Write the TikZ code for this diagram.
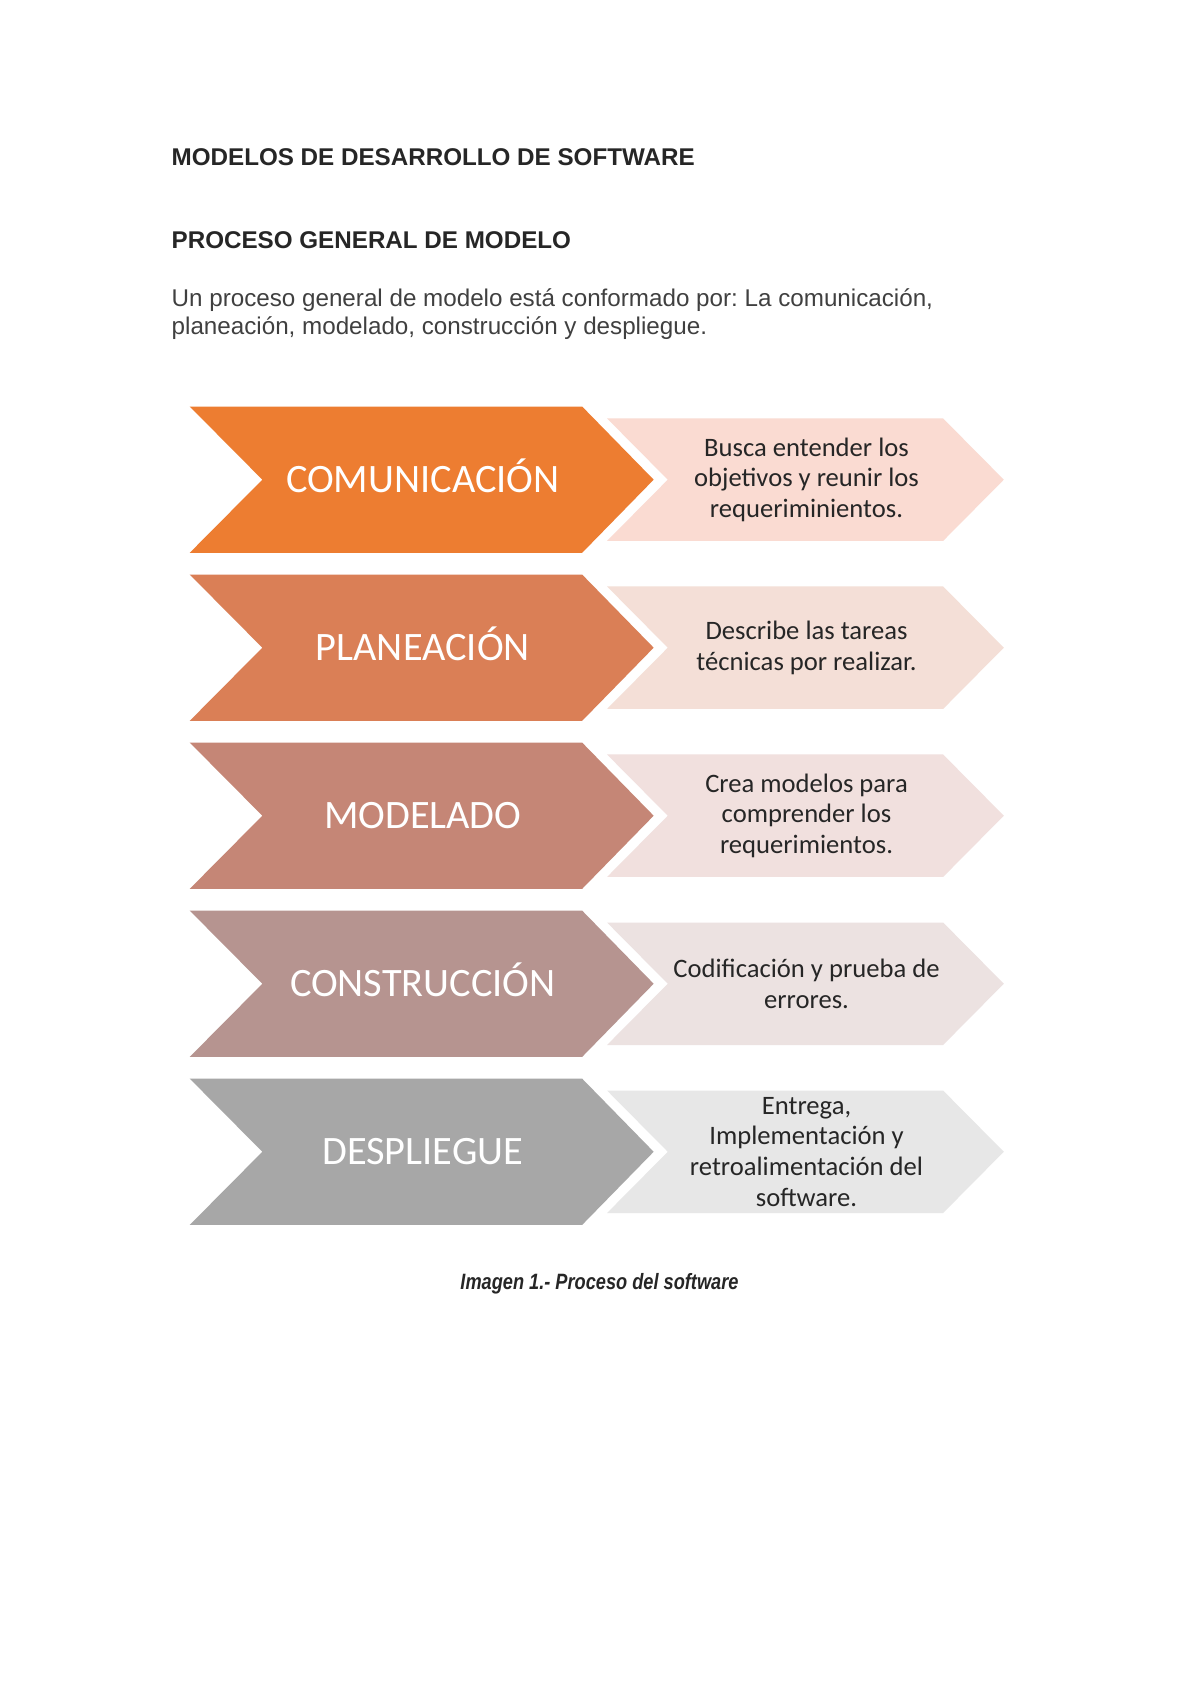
\documentclass[tikz,border=0pt]{standalone}
\usepackage{fontspec}
\setmainfont{Liberation Sans}
\newfontfamily\calibrifont{Carlito}
\frenchspacing
\definecolor{headc}{HTML}{262626}
\definecolor{bodyc}{HTML}{404040}
\definecolor{boxtxt}{HTML}{262626}
\definecolor{lA}{HTML}{ED7D31}\definecolor{rA}{HTML}{FADBD2}
\definecolor{lB}{HTML}{DA7F56}\definecolor{rB}{HTML}{F4DFD7}
\definecolor{lC}{HTML}{C58676}\definecolor{rC}{HTML}{F1E0DE}
\definecolor{lD}{HTML}{B69490}\definecolor{rD}{HTML}{ECE2E1}
\definecolor{lE}{HTML}{A7A7A7}\definecolor{rE}{HTML}{E7E7E7}
\tikzset{
  headtext/.style={anchor=base west, inner sep=0pt, text=headc, font=\fontsize{12}{14}\selectfont\bfseries},
  bodytext/.style={anchor=base west, inner sep=0pt, text=bodyc, font=\fontsize{12}{14}\selectfont\frenchspacing},
  steptext/.style={anchor=base, inner sep=0pt, text=white, font=\calibrifont\fontsize{20}{24}\selectfont},
  desctext/.style={anchor=center, inner sep=0pt, align=center, text=boxtxt, font=\calibrifont\fontsize{13.2}{15.2}\selectfont},
  captext/.style={anchor=base, inner sep=0pt, text=headc, font=\fontsize{11}{13}\selectfont\bfseries\itshape}
}
\newcommand{\mychevrow}[6]{%
  % #1 top, #2 left colour, #3 right colour, #4 name, #5 label, #6 description
  \fill[#2] (175,#1) -- (537,#1) -- (603,#1+67.5) -- (537,#1+135) -- (175,#1+135) -- (242,#1+67.5) -- cycle;
  \fill[#3] (560,#1+11) -- (870,#1+11) -- (926,#1+67.5) -- (870,#1+124) -- (560,#1+124) -- (616,#1+67.5) -- cycle;
  \node[steptext] (#4L) at (390,#1+79.5) {#5};
  \node[desctext] (#4R) at (744,#1+67.5) {#6};
}
\begin{document}
\begin{tikzpicture}[x=0.5375pt,y=-0.5375pt]
\useasboundingbox[fill=white] (0,0) rectangle (1107,1566.4);
\node[headtext] (t1) at (158,153) {MODELOS DE DESARROLLO DE SOFTWARE};
\node[headtext] (t2) at (158,229) {PROCESO GENERAL DE MODELO};
\node[bodytext] (p1) at (158,283) {Un proceso general de modelo está conformado por: La comunicación,};
\node[bodytext] (p2) at (158,309) {planeación, modelado, construcción y despliegue.};
\mychevrow{375}{lA}{rA}{com}{COMUNICACIÓN}{Busca entender los\\objetivos y reunir los\\requeriminientos.}
\mychevrow{530}{lB}{rB}{pla}{PLANEACIÓN}{Describe las tareas\\técnicas por realizar.}
\mychevrow{685}{lC}{rC}{mod}{MODELADO}{Crea modelos para\\comprender los\\requerimientos.}
\mychevrow{840}{lD}{rD}{con}{CONSTRUCCIÓN}{Codificación y prueba de\\errores.}
\mychevrow{995}{lE}{rE}{des}{DESPLIEGUE}{Entrega,\\Implementación y\\retroalimentación del\\software.}
\node[captext] (cap) at (553,1190) {\scalebox{0.82}[1]{Imagen 1.- Proceso del software}};
\end{tikzpicture}
\end{document}
